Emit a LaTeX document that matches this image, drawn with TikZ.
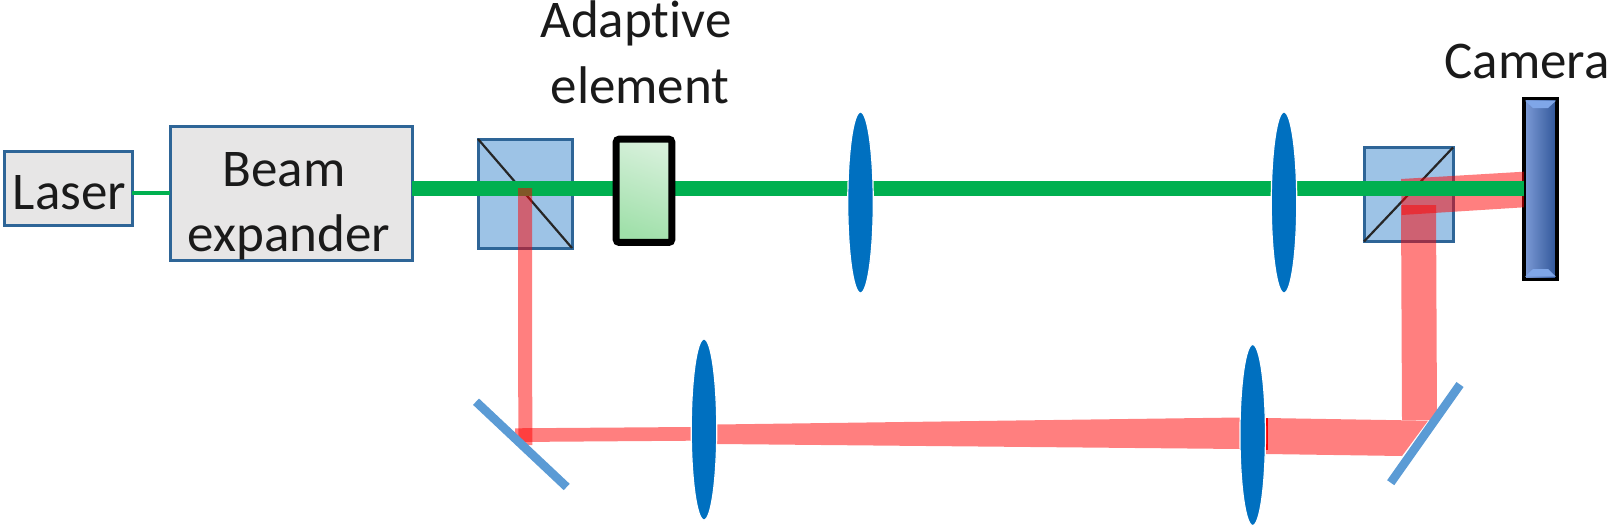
\documentclass[tikz,border=0pt]{standalone}
\usepackage{fontspec}
\setmainfont[Ligatures=NoCommon]{Carlito}
\usetikzlibrary{shapes.geometric}
\definecolor{edgeblue}{HTML}{2E6597}
\definecolor{boxgrey}{HTML}{E7E6E6}
\definecolor{cubeblue}{HTML}{9DC3E6}
\definecolor{beamgreen}{HTML}{00B050}
\definecolor{lensblue}{HTML}{0070C0}
\definecolor{mirrorblue}{HTML}{5B9BD5}
\definecolor{txt}{HTML}{1A1A1A}
\definecolor{camL}{HTML}{7E9CD8}
\definecolor{camM}{HTML}{4A70B8}
\definecolor{camR}{HTML}{2F5597}
\definecolor{camB}{HTML}{7FA6E8}
\tikzset{
  every node/.style={inner sep=0pt,outer sep=0pt},
  lbl/.style={font=\fontsize{53}{65}\selectfont,text=txt,align=center},
  greybox/.style={draw=edgeblue,line width=3pt,fill=boxgrey,lbl},
  cube/.style={draw=edgeblue,line width=3pt,fill=cubeblue},
  diag/.style={draw=black!85,line width=2.2pt},
  greenbeam/.style={draw=beamgreen,line width=14.5pt},
  thinbeam/.style={draw=beamgreen,line width=3.8pt},
  redbeam/.style={fill=red,fill opacity=.5},
  lens/.style={shape=ellipse,fill=lensblue,draw=white,line width=1.2pt,minimum width=25.5pt,minimum height=181pt},
  mirror/.style={draw=mirrorblue,line width=8.7pt},
}
\begin{document}
\begin{tikzpicture}[x=1pt,y=-1pt]
\useasboundingbox (0,0) rectangle (1612,527);
% boxes
\node[greybox,minimum width=128pt,minimum height=74pt] (laser) at (68,188.7) {\raisebox{-20.3pt}[0pt][0pt]{\hspace*{3pt}Laser}};
\node[greybox,minimum width=242pt,minimum height=134pt] (expander) at (291,193) {\raisebox{-19.5pt}[0pt][0pt]{\begin{tabular}{@{}c@{}}Beam\hspace*{14pt}\\expander\hspace*{4pt}\end{tabular}}};
% beam splitter cubes
\node[cube,minimum width=94pt,minimum height=109pt] (bsl) at (525,193.5) {};
\draw[diag] (bsl.north west) -- (bsl.south east);
\node[cube,minimum width=89pt,minimum height=94pt] (bsr) at (1408.5,194.5) {};
\draw[diag] (bsr.south west) -- (bsr.north east);
% camera
\node[draw=black,line width=3.2pt,minimum width=33pt,minimum height=181pt,shading=axis,left color=camL,middle color=camM,right color=camR] (camera) at (1540.4,188.7) {};
\fill[camB] (1525,100.7) -- (1556,100.7) -- (1548,108) -- (1533,108) -- cycle;
\fill[camB] (1525,276.7) -- (1556,276.7) -- (1548,269) -- (1533,269) -- cycle;
% red beam to camera (under the green beam)
\coordinate (rc1) at (1401,179);
\coordinate (rc2) at (1401.7,215);
\fill[redbeam] (rc1) -- (camera.west |- 0,171.7) -- (camera.west |- 0,207.3) -- (rc2) -- cycle;
% green beam
\coordinate (gy) at (0,188.7);
\coordinate (ty) at (0,193.3);
\draw[thinbeam] (laser.east |- ty) -- (expander.west |- ty);
\draw[greenbeam] (expander.east |- gy) -- (camera.west |- gy);
% red beams
\fill[redbeam] (518,188) -- (532,188) -- (532.3,445) -- (518.3,445) -- cycle;
\fill[redbeam] (515,428.3) -- (692,427) -- (692,440.7) -- (515,442) -- cycle;
\fill[redbeam] (717,424.5) -- (1240,417.5) -- (1240,449) -- (717,444) -- cycle;
\fill[redbeam] (1266,418) -- (1428,420.7) -- (1402,456) -- (1266,454) -- cycle;
\fill[redbeam] (1401,205) -- (1436,205) -- (1437,420) -- (1402,420) -- cycle;
\draw[red,line width=1.5pt] (1267,418) -- (1267,450);
% adaptive element
\node[draw=black,line width=7pt,rounded corners=3pt,minimum width=55.6pt,minimum height=103.3pt,shading=axis,top color={rgb,255:red,214;green,240;blue,218},bottom color={rgb,255:red,160;green,224;blue,170},shading angle=-20] (adaptive) at (644,190.8) {};
% lenses
\node[lens] (l1) at (860.5,202.5) {};
\node[lens] (l2) at (1284,202.5) {};
\node[lens] (l3) at (704,429.5) {};
\node[lens] (l4) at (1252.7,435) {};
% mirrors
\coordinate (m1a) at (476,401.7);
\coordinate (m1b) at (566.7,487);
\coordinate (m2a) at (1390.7,482.7);
\coordinate (m2b) at (1460,384.5);
\draw[mirror] (m1a) -- (m1b);
\draw[mirror] (m2a) -- (m2b);
% free labels
\node[lbl,anchor=base] (t1) at (636,38) {Adaptive};
\node[lbl,anchor=base] (t2) at (640,103) {element};
\node[lbl,anchor=base] (t3) at (1527,78) {Camera};
\end{tikzpicture}
\end{document}
